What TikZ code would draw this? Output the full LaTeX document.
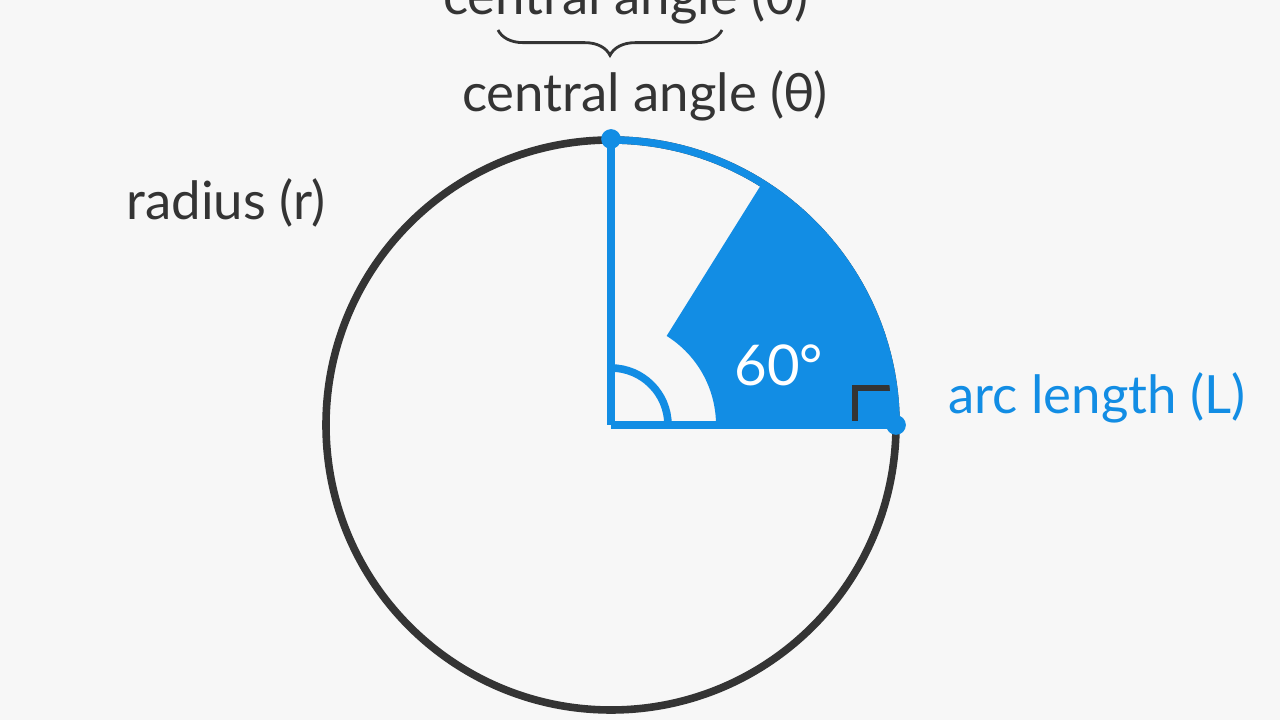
\documentclass[tikz,border=0pt]{standalone}
\usepackage{fontspec}
\setmainfont{Lato}
\usetikzlibrary{decorations.pathreplacing}

\definecolor{arcblue}{RGB}{18,141,228}
\definecolor{ink}{RGB}{52,52,52}
\definecolor{paper}{RGB}{247,247,247}

\begin{document}
\begin{tikzpicture}[
    x=0.025cm, y=0.025cm,
    rim/.style={draw=ink, line width=5.4pt},
    blueline/.style={draw=arcblue, line width=5.4pt},
    dot/.style={circle, fill=arcblue, inner sep=0pt, minimum size=14pt},
    label/.style={font=\fontsize{37.5}{40}\selectfont, text=ink, inner sep=0pt},
    brace/.style={draw=ink, line width=2pt, decorate, decoration={brace, amplitude=18pt}}
]

% Define canvas
\fill[paper] (0,0) rectangle (1280,720);
\useasboundingbox (0,0) rectangle (1280,720);

% Define points
\coordinate (O) at (611,295);
\coordinate (T) at (611,581);
\coordinate (R) at (896,295);

% Circle
\draw[rim] (O) circle[radius=285];

% Shaded sector
\fill[arcblue] (716,295) -- (898,295) arc[start angle=0, end angle=58, radius=287]
    -- ([shift={(O)}]58:105) arc[start angle=58, end angle=0, radius=105] -- cycle;

% Right angle mark
\draw[draw=ink, line width=3.6pt] (855,295) -- (855,332) -- (892,332);

% Radii and arc
\path[blueline] (O) -- (T);
\path[blueline] (O) -- (R);
\path[blueline] (R) arc[start angle=0, end angle=90, radius=285];
\path[blueline] (668,295) arc[start angle=0, end angle=90, radius=57];

\node[dot] (top) at (T) {};
\node[dot] (right) at (R) {};

% Labels
\node[label, anchor=base] (ca1) at (626,705) {central angle (θ)};
\node[label, anchor=base] (ca2) at (645,608) {central angle (θ)};
\node[label] (rad) at (226,517) {radius (r)};
\node[label, text=arcblue] (arc) at (1097,322) {arc length (L)};
\node[label, text=white, font=\fontsize{40}{42}\selectfont] (deg) at (779,355) {60°};

\coordinate (b1) at (722,690);
\coordinate (b2) at (498,690);
\path[brace] (b1) -- (b2);

\end{tikzpicture}
\end{document}
